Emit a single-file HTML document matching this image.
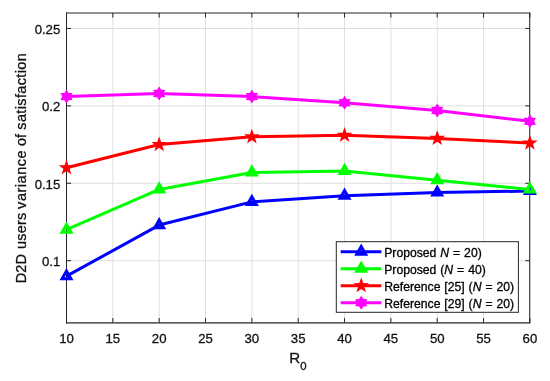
<!DOCTYPE html>
<html><head><meta charset="utf-8"><title>Chart</title><style>html,body{margin:0;padding:0;background:#fff}body{width:550px;height:381px;overflow:hidden}</style></head><body>
<svg width="550" height="381" viewBox="0 0 550 381" style="display:block;font-family:'Liberation Sans',Arial,sans-serif">
<rect width="550" height="381" fill="#ffffff"/>
<line x1="66.50" y1="13.00" x2="66.50" y2="322.60" stroke="#dfdfdf" stroke-width="1"/>
<line x1="112.84" y1="13.00" x2="112.84" y2="322.60" stroke="#dfdfdf" stroke-width="1"/>
<line x1="159.18" y1="13.00" x2="159.18" y2="322.60" stroke="#dfdfdf" stroke-width="1"/>
<line x1="205.52" y1="13.00" x2="205.52" y2="322.60" stroke="#dfdfdf" stroke-width="1"/>
<line x1="251.86" y1="13.00" x2="251.86" y2="322.60" stroke="#dfdfdf" stroke-width="1"/>
<line x1="298.20" y1="13.00" x2="298.20" y2="322.60" stroke="#dfdfdf" stroke-width="1"/>
<line x1="344.54" y1="13.00" x2="344.54" y2="322.60" stroke="#dfdfdf" stroke-width="1"/>
<line x1="390.88" y1="13.00" x2="390.88" y2="322.60" stroke="#dfdfdf" stroke-width="1"/>
<line x1="437.22" y1="13.00" x2="437.22" y2="322.60" stroke="#dfdfdf" stroke-width="1"/>
<line x1="483.56" y1="13.00" x2="483.56" y2="322.60" stroke="#dfdfdf" stroke-width="1"/>
<line x1="529.90" y1="13.00" x2="529.90" y2="322.60" stroke="#dfdfdf" stroke-width="1"/>
<line x1="66.50" y1="260.68" x2="529.90" y2="260.68" stroke="#dfdfdf" stroke-width="1"/>
<line x1="66.50" y1="183.28" x2="529.90" y2="183.28" stroke="#dfdfdf" stroke-width="1"/>
<line x1="66.50" y1="105.88" x2="529.90" y2="105.88" stroke="#dfdfdf" stroke-width="1"/>
<line x1="66.50" y1="28.48" x2="529.90" y2="28.48" stroke="#dfdfdf" stroke-width="1"/>
<path d="M66.50 12.50V323.40 M529.70 12.50V323.40" fill="none" stroke="#262626" stroke-width="1"/>
<path d="M66.00 13.00H530.20 M66.00 322.90H530.20" fill="none" stroke="#262626" stroke-width="1.1"/>
<line x1="66.50" y1="322.60" x2="66.50" y2="318.00" stroke="#262626" stroke-width="1"/>
<line x1="66.50" y1="13.00" x2="66.50" y2="17.60" stroke="#262626" stroke-width="1"/>
<text x="66.50" y="342.5" font-size="13.2" text-anchor="middle" fill="#111" stroke="#111" stroke-width="0.3">10</text>
<line x1="112.84" y1="322.60" x2="112.84" y2="318.00" stroke="#262626" stroke-width="1"/>
<line x1="112.84" y1="13.00" x2="112.84" y2="17.60" stroke="#262626" stroke-width="1"/>
<text x="112.84" y="342.5" font-size="13.2" text-anchor="middle" fill="#111" stroke="#111" stroke-width="0.3">15</text>
<line x1="159.18" y1="322.60" x2="159.18" y2="318.00" stroke="#262626" stroke-width="1"/>
<line x1="159.18" y1="13.00" x2="159.18" y2="17.60" stroke="#262626" stroke-width="1"/>
<text x="159.18" y="342.5" font-size="13.2" text-anchor="middle" fill="#111" stroke="#111" stroke-width="0.3">20</text>
<line x1="205.52" y1="322.60" x2="205.52" y2="318.00" stroke="#262626" stroke-width="1"/>
<line x1="205.52" y1="13.00" x2="205.52" y2="17.60" stroke="#262626" stroke-width="1"/>
<text x="205.52" y="342.5" font-size="13.2" text-anchor="middle" fill="#111" stroke="#111" stroke-width="0.3">25</text>
<line x1="251.86" y1="322.60" x2="251.86" y2="318.00" stroke="#262626" stroke-width="1"/>
<line x1="251.86" y1="13.00" x2="251.86" y2="17.60" stroke="#262626" stroke-width="1"/>
<text x="251.86" y="342.5" font-size="13.2" text-anchor="middle" fill="#111" stroke="#111" stroke-width="0.3">30</text>
<line x1="298.20" y1="322.60" x2="298.20" y2="318.00" stroke="#262626" stroke-width="1"/>
<line x1="298.20" y1="13.00" x2="298.20" y2="17.60" stroke="#262626" stroke-width="1"/>
<text x="298.20" y="342.5" font-size="13.2" text-anchor="middle" fill="#111" stroke="#111" stroke-width="0.3">35</text>
<line x1="344.54" y1="322.60" x2="344.54" y2="318.00" stroke="#262626" stroke-width="1"/>
<line x1="344.54" y1="13.00" x2="344.54" y2="17.60" stroke="#262626" stroke-width="1"/>
<text x="344.54" y="342.5" font-size="13.2" text-anchor="middle" fill="#111" stroke="#111" stroke-width="0.3">40</text>
<line x1="390.88" y1="322.60" x2="390.88" y2="318.00" stroke="#262626" stroke-width="1"/>
<line x1="390.88" y1="13.00" x2="390.88" y2="17.60" stroke="#262626" stroke-width="1"/>
<text x="390.88" y="342.5" font-size="13.2" text-anchor="middle" fill="#111" stroke="#111" stroke-width="0.3">45</text>
<line x1="437.22" y1="322.60" x2="437.22" y2="318.00" stroke="#262626" stroke-width="1"/>
<line x1="437.22" y1="13.00" x2="437.22" y2="17.60" stroke="#262626" stroke-width="1"/>
<text x="437.22" y="342.5" font-size="13.2" text-anchor="middle" fill="#111" stroke="#111" stroke-width="0.3">50</text>
<line x1="483.56" y1="322.60" x2="483.56" y2="318.00" stroke="#262626" stroke-width="1"/>
<line x1="483.56" y1="13.00" x2="483.56" y2="17.60" stroke="#262626" stroke-width="1"/>
<text x="483.56" y="342.5" font-size="13.2" text-anchor="middle" fill="#111" stroke="#111" stroke-width="0.3">55</text>
<line x1="529.90" y1="322.60" x2="529.90" y2="318.00" stroke="#262626" stroke-width="1"/>
<line x1="529.90" y1="13.00" x2="529.90" y2="17.60" stroke="#262626" stroke-width="1"/>
<text x="529.90" y="342.5" font-size="13.2" text-anchor="middle" fill="#111" stroke="#111" stroke-width="0.3">60</text>
<line x1="66.50" y1="260.68" x2="71.10" y2="260.68" stroke="#262626" stroke-width="1"/>
<line x1="529.90" y1="260.68" x2="525.30" y2="260.68" stroke="#262626" stroke-width="1"/>
<text x="60.3" y="266.08" font-size="13.2" text-anchor="end" fill="#111" stroke="#111" stroke-width="0.3">0.1</text>
<line x1="66.50" y1="183.28" x2="71.10" y2="183.28" stroke="#262626" stroke-width="1"/>
<line x1="529.90" y1="183.28" x2="525.30" y2="183.28" stroke="#262626" stroke-width="1"/>
<text x="60.3" y="188.68" font-size="13.2" text-anchor="end" fill="#111" stroke="#111" stroke-width="0.3">0.15</text>
<line x1="66.50" y1="105.88" x2="71.10" y2="105.88" stroke="#262626" stroke-width="1"/>
<line x1="529.90" y1="105.88" x2="525.30" y2="105.88" stroke="#262626" stroke-width="1"/>
<text x="60.3" y="111.28" font-size="13.2" text-anchor="end" fill="#111" stroke="#111" stroke-width="0.3">0.2</text>
<line x1="66.50" y1="28.48" x2="71.10" y2="28.48" stroke="#262626" stroke-width="1"/>
<line x1="529.90" y1="28.48" x2="525.30" y2="28.48" stroke="#262626" stroke-width="1"/>
<text x="60.3" y="33.88" font-size="13.2" text-anchor="end" fill="#111" stroke="#111" stroke-width="0.3">0.25</text>
<polyline points="66.50,276.16 159.18,225.08 251.86,201.86 344.54,195.66 437.22,192.57 529.90,191.02" fill="none" stroke="#0000ff" stroke-width="3.00" stroke-linejoin="round"/>
<polygon points="66.50,271.06 62.08,278.71 70.92,278.71" fill="none" stroke="#0000ff" stroke-width="3.00" stroke-linejoin="miter"/>
<polygon points="159.18,219.98 154.76,227.63 163.60,227.63" fill="none" stroke="#0000ff" stroke-width="3.00" stroke-linejoin="miter"/>
<polygon points="251.86,196.76 247.44,204.41 256.28,204.41" fill="none" stroke="#0000ff" stroke-width="3.00" stroke-linejoin="miter"/>
<polygon points="344.54,190.56 340.12,198.21 348.96,198.21" fill="none" stroke="#0000ff" stroke-width="3.00" stroke-linejoin="miter"/>
<polygon points="437.22,187.47 432.80,195.12 441.64,195.12" fill="none" stroke="#0000ff" stroke-width="3.00" stroke-linejoin="miter"/>
<polygon points="529.90,185.92 525.48,193.57 534.32,193.57" fill="none" stroke="#0000ff" stroke-width="3.00" stroke-linejoin="miter"/>
<polyline points="66.50,229.72 159.18,189.47 251.86,172.44 344.54,170.90 437.22,180.18 529.90,189.47" fill="none" stroke="#00ff00" stroke-width="3.00" stroke-linejoin="round"/>
<polygon points="66.50,224.62 62.08,232.27 70.92,232.27" fill="none" stroke="#00ff00" stroke-width="3.00" stroke-linejoin="miter"/>
<polygon points="159.18,184.37 154.76,192.02 163.60,192.02" fill="none" stroke="#00ff00" stroke-width="3.00" stroke-linejoin="miter"/>
<polygon points="251.86,167.34 247.44,174.99 256.28,174.99" fill="none" stroke="#00ff00" stroke-width="3.00" stroke-linejoin="miter"/>
<polygon points="344.54,165.80 340.12,173.45 348.96,173.45" fill="none" stroke="#00ff00" stroke-width="3.00" stroke-linejoin="miter"/>
<polygon points="437.22,175.08 432.80,182.73 441.64,182.73" fill="none" stroke="#00ff00" stroke-width="3.00" stroke-linejoin="miter"/>
<polygon points="529.90,184.37 525.48,192.02 534.32,192.02" fill="none" stroke="#00ff00" stroke-width="3.00" stroke-linejoin="miter"/>
<polyline points="66.50,167.80 159.18,144.58 251.86,136.84 344.54,135.29 437.22,138.39 529.90,143.03" fill="none" stroke="#ff0000" stroke-width="3.00" stroke-linejoin="round"/>
<polygon points="66.50,159.60 68.43,165.15 74.30,165.27 69.62,168.81 71.32,174.43 66.50,171.08 61.68,174.43 63.38,168.81 58.70,165.27 64.57,165.15" fill="#ff0000"/>
<polygon points="159.18,136.38 161.11,141.93 166.98,142.05 162.30,145.59 164.00,151.21 159.18,147.86 154.36,151.21 156.06,145.59 151.38,142.05 157.25,141.93" fill="#ff0000"/>
<polygon points="251.86,128.64 253.79,134.19 259.66,134.31 254.98,137.85 256.68,143.47 251.86,140.12 247.04,143.47 248.74,137.85 244.06,134.31 249.93,134.19" fill="#ff0000"/>
<polygon points="344.54,127.09 346.47,132.64 352.34,132.76 347.66,136.31 349.36,141.93 344.54,138.57 339.72,141.93 341.42,136.31 336.74,132.76 342.61,132.64" fill="#ff0000"/>
<polygon points="437.22,130.19 439.15,135.73 445.02,135.85 440.34,139.40 442.04,145.02 437.22,141.67 432.40,145.02 434.10,139.40 429.42,135.85 435.29,135.73" fill="#ff0000"/>
<polygon points="529.90,134.83 531.83,140.38 537.70,140.50 533.02,144.05 534.72,149.67 529.90,146.31 525.08,149.67 526.78,144.05 522.10,140.50 527.97,140.38" fill="#ff0000"/>
<polyline points="66.50,96.59 159.18,93.50 251.86,96.59 344.54,102.78 437.22,110.52 529.90,121.36" fill="none" stroke="#ff00ff" stroke-width="3.00" stroke-linejoin="round"/>
<polygon points="66.50,89.59 68.62,92.92 72.56,93.09 70.74,96.59 72.56,100.09 68.62,100.27 66.50,103.59 64.38,100.27 60.44,100.09 62.26,96.59 60.44,93.09 64.38,92.92" fill="#ff00ff"/>
<polygon points="159.18,86.50 161.30,89.82 165.24,90.00 163.42,93.50 165.24,97.00 161.30,97.17 159.18,100.50 157.06,97.17 153.12,97.00 154.94,93.50 153.12,90.00 157.06,89.82" fill="#ff00ff"/>
<polygon points="251.86,89.59 253.98,92.92 257.92,93.09 256.10,96.59 257.92,100.09 253.98,100.27 251.86,103.59 249.74,100.27 245.80,100.09 247.62,96.59 245.80,93.09 249.74,92.92" fill="#ff00ff"/>
<polygon points="344.54,95.78 346.66,99.11 350.60,99.28 348.78,102.78 350.60,106.28 346.66,106.46 344.54,109.78 342.42,106.46 338.48,106.28 340.30,102.78 338.48,99.28 342.42,99.11" fill="#ff00ff"/>
<polygon points="437.22,103.52 439.34,106.85 443.28,107.02 441.46,110.52 443.28,114.02 439.34,114.20 437.22,117.52 435.10,114.20 431.16,114.02 432.98,110.52 431.16,107.02 435.10,106.85" fill="#ff00ff"/>
<polygon points="529.90,114.36 532.02,117.69 535.96,117.86 534.14,121.36 535.96,124.86 532.02,125.04 529.90,128.36 527.78,125.04 523.84,124.86 525.66,121.36 523.84,117.86 527.78,117.69" fill="#ff00ff"/>
<rect x="336.30" y="241.70" width="182.10" height="70.60" fill="#ffffff" stroke="#262626" stroke-width="1"/>
<line x1="340.7" y1="251.70" x2="381.4" y2="251.70" stroke="#0000ff" stroke-width="3.00"/>
<polygon points="361.20,246.60 356.78,254.25 365.62,254.25" fill="none" stroke="#0000ff" stroke-width="3.00" stroke-linejoin="miter"/>
<text x="384.2" y="256.70" font-size="12.2" word-spacing="0.55" fill="#000000" stroke="#000" stroke-width="0.3">Proposed <tspan font-style="italic">N</tspan> = 20)</text>
<line x1="340.7" y1="268.70" x2="381.4" y2="268.70" stroke="#00ff00" stroke-width="3.00"/>
<polygon points="361.20,263.60 356.78,271.25 365.62,271.25" fill="none" stroke="#00ff00" stroke-width="3.00" stroke-linejoin="miter"/>
<text x="384.2" y="273.70" font-size="12.2" word-spacing="0.55" fill="#000000" stroke="#000" stroke-width="0.3">Proposed (<tspan font-style="italic">N</tspan> = 40)</text>
<line x1="340.7" y1="285.70" x2="381.4" y2="285.70" stroke="#ff0000" stroke-width="3.00"/>
<polygon points="361.20,277.50 363.13,283.05 369.00,283.17 364.32,286.71 366.02,292.33 361.20,288.98 356.38,292.33 358.08,286.71 353.40,283.17 359.27,283.05" fill="#ff0000"/>
<text x="384.2" y="290.70" font-size="12.2" word-spacing="0.55" fill="#000000" stroke="#000" stroke-width="0.3">Reference [25] (<tspan font-style="italic">N</tspan> = 20)</text>
<line x1="340.7" y1="302.70" x2="381.4" y2="302.70" stroke="#ff00ff" stroke-width="3.00"/>
<polygon points="361.20,295.70 363.32,299.02 367.26,299.20 365.44,302.70 367.26,306.20 363.32,306.38 361.20,309.70 359.08,306.38 355.14,306.20 356.96,302.70 355.14,299.20 359.08,299.02" fill="#ff00ff"/>
<text x="384.2" y="307.70" font-size="12.2" word-spacing="0.55" fill="#000000" stroke="#000" stroke-width="0.3">Reference [29] (<tspan font-style="italic">N</tspan> = 20)</text>
<text x="289.2" y="362.9" font-size="15.2" fill="#111" stroke="#111" stroke-width="0.3">R<tspan font-size="11.4" dy="7.1">0</tspan></text>
<text transform="translate(26.1,0) rotate(-90)" font-size="14.5" fill="#111" stroke="#111" stroke-width="0.3"><tspan x="-283.30" letter-spacing="0.15">D2D </tspan><tspan x="-248.90" letter-spacing="0.18">users </tspan><tspan x="-208.90" letter-spacing="0.52">variance </tspan><tspan x="-146.00" letter-spacing="0.00">of </tspan><tspan x="-129.70" letter-spacing="0.36">satisfaction </tspan></text>
</svg>
</body></html>
